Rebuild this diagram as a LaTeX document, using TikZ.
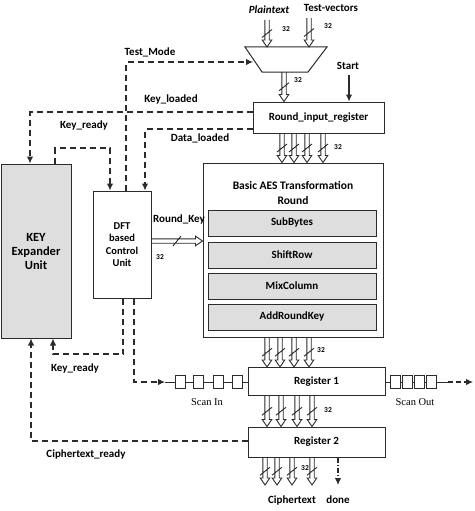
\documentclass[tikz,border=0pt]{standalone}
\usepackage{fontspec}
\setmainfont{Carlito}
\newfontfamily\seriffont{Liberation Serif}
\usetikzlibrary{arrows.meta,calc}
\definecolor{lc}{HTML}{2B2B2B}
\definecolor{gfill}{HTML}{DEDEDE}
\newcommand\busv[3]{\draw[busline] let \p1=(#2), \p2=(#3), \p3=(#1,0) in
 (\x3-2.2pt,\y1) -- (\x3-2.2pt,\y2+7pt) -- (\x3-4.8pt,\y2+7pt) -- (\x3,\y2) -- (\x3+4.8pt,\y2+7pt) -- (\x3+2.2pt,\y2+7pt) -- (\x3+2.2pt,\y1)
 (\x3-5pt,{0.5*\y1+0.5*\y2-4pt}) -- (\x3+5pt,{0.5*\y1+0.5*\y2+4pt});}
\newcommand\bush[3]{\draw[busline] let \p1=(#2), \p2=(#3), \p3=(0,#1) in
 (\x1,\y3+2.2pt) -- (\x2-7pt,\y3+2.2pt) -- (\x2-7pt,\y3+4.8pt) -- (\x2,\y3) -- (\x2-7pt,\y3-4.8pt) -- (\x2-7pt,\y3-2.2pt) -- (\x1,\y3-2.2pt)
 ({0.5*\x1+0.5*\x2-4pt},\y3-5pt) -- ({0.5*\x1+0.5*\x2+4pt},\y3+5pt);}
\begin{document}
\begin{tikzpicture}[x=1pt,y=-1pt,
  blk/.style={draw=lc,line width=1pt,inner sep=0pt,align=center,font=\bfseries\fontsize{11}{13}\selectfont},
  gblk/.style={blk,fill=gfill},
  lbl/.style={inner sep=0pt,font=\bfseries\fontsize{11}{13}\selectfont},
  num/.style={inner sep=0pt,font=\bfseries\fontsize{7.5}{8}\selectfont},
  scanlbl/.style={inner sep=0pt,font=\seriffont\fontsize{10.5}{12}\selectfont},
  busline/.style={draw=lc,line width=0.9pt},
  dsh/.style={draw=lc,line width=1.1pt,dash pattern=on 6pt off 4pt,-{Latex[length=7pt,width=6.5pt]}},
  sol/.style={draw=lc,line width=1.1pt,-{Latex[length=7pt,width=6.5pt]}},
  sq/.style={draw=lc,line width=0.8pt,fill=white,minimum width=10,minimum height=13,inner sep=0pt}]
\useasboundingbox (0,0) rectangle (474,511);

% blocks
\node[blk,minimum width=131,minimum height=31] (rir) at (318.5,117.5) {Round\_input\_register};
\node[blk,minimum width=180,minimum height=174] (aes) at (293,250) {};
\node[lbl,align=center,font=\bfseries\fontsize{11.5}{15}\selectfont] (aest) at (293,193) {Basic AES Transformation\\Round};
\node[gblk,minimum width=168,minimum height=26] (sub) at (292,223) {SubBytes};
\node[gblk,minimum width=168,minimum height=26] (shift) at (292,255) {ShiftRow};
\node[gblk,minimum width=168,minimum height=26] (mix) at (292,286) {MixColumn};
\node[gblk,minimum width=168,minimum height=26] (add) at (292,317) {AddRoundKey};
\node[gblk,minimum width=70,minimum height=174,font=\bfseries\fontsize{12.5}{14}\selectfont] (key) at (36,251) {KEY\\Expander\\Unit};
\node[blk,minimum width=58,minimum height=107,font=\bfseries\fontsize{10.5}{12.3}\selectfont] (dft) at (122,244.5) {DFT\\based\\Control\\Unit};
\node[blk,minimum width=137,minimum height=28] (reg1) at (316.5,381.5) {Register 1};
\node[blk,minimum width=137,minimum height=30] (reg2) at (316.5,442) {Register 2};

% mux
\coordinate (mtl) at (245,47);
\coordinate (mtr) at (327,47);
\coordinate (mbr) at (308,72);
\coordinate (mbl) at (262,72);
\coordinate (muxin) at (253,62);
\draw[draw=lc,line width=1pt] (mtl) -- (mtr) -- (mbr) -- (mbl) -- cycle;

% top labels
\node[lbl,font=\bfseries\itshape\fontsize{11}{13}\selectfont] (ptl) at (269,10) {Plaintext};
\node[lbl] (tvl) at (331,8) {Test-vectors};
\node[lbl] (stl) at (348,66) {Start};
\coordinate (pt) at (267,20);
\coordinate (tv) at (309,18);
\busv{267}{pt}{mtl}
\busv{309}{tv}{mtl}
\busv{284}{mbl}{rir.north}
\node[num] at (286,29) {32};
\node[num] at (328,26) {32};
\node[num] at (298,80) {32};
\coordinate (st) at (349,75);
\draw[sol] (st) -- (st |- rir.north);

% rir -> aes
\busv{282}{rir.south}{aes.north}
\busv{294}{rir.south}{aes.north}
\busv{307}{rir.south}{aes.north}
\busv{323}{rir.south}{aes.north}
\node[num] at (338,147) {32};

% round key
\bush{241}{dft.east}{aes.west}
\node[lbl] at (179,220) {Round\_Key};
\node[num] at (160,257) {32};

% aes -> reg1
\busv{267}{aes.south}{reg1.north}
\busv{280}{aes.south}{reg1.north}
\busv{294}{aes.south}{reg1.north}
\busv{309}{aes.south}{reg1.north}
\node[num] at (321,350) {32};

% reg1 -> reg2
\busv{267}{reg1.south}{reg2.north}
\busv{281}{reg1.south}{reg2.north}
\busv{297}{reg1.south}{reg2.north}
\busv{312}{reg1.south}{reg2.north}
\node[num] at (328,410) {32};

% reg2 outputs
\coordinate (co) at (265,485);
\busv{265}{reg2.south}{co}
\busv{277}{reg2.south}{co}
\busv{292}{reg2.south}{co}
\busv{312}{reg2.south}{co}
\node[num] at (305,468) {32};
\coordinate (dn) at (338,485);
\draw[draw=lc,line width=1.1pt,dash pattern=on 5pt off 2pt on 1pt off 2pt,-{Latex[length=7pt,width=6.5pt]}] (dn |- reg2.south) -- (dn);
\node[lbl] at (292,500) {Ciphertext};
\node[lbl] at (338,500) {done};

% dashed control lines
\coordinate (tm) at (126,62);
\draw[dsh] (tm |- dft.north) -- (tm) -- (muxin);
\node[lbl] at (150,52) {Test\_Mode};

\coordinate (kl) at (30,112);
\draw[dsh] (kl -| rir.west) -- (kl) -- (kl |- key.north);
\node[lbl] at (171,100) {Key\_loaded};

\coordinate (kr1) at (55,148);
\coordinate (kr2) at (110,148);
\draw[dsh] (kr1 |- key.north) -- (kr1) -- (kr2) -- (kr2 |- dft.north);
\node[lbl] at (84,126) {Key\_ready};

\coordinate (dl) at (145,129);
\draw[dsh] (dl -| rir.west) -- (dl) -- (dl |- dft.north);
\node[lbl] at (200,138) {Data\_loaded};

\coordinate (kb1) at (123,354);
\coordinate (kb2) at (53,354);
\draw[dsh] (kb1 |- dft.south) -- (kb1) -- (kb2) -- (kb2 |- key.south);
\node[lbl] at (75,369) {Key\_ready};

\coordinate (cr) at (31,441);
\draw[dsh] (cr -| reg2.west) -- (cr) -- (cr |- key.south);
\node[lbl] at (86,455) {Ciphertext\_ready};

% scan chain in
\coordinate (si1) at (134,382);
\coordinate (si2) at (165,382);
\draw[dsh] (si1 |- dft.south) -- (si1) -- (si2);
\draw[draw=lc,line width=0.8pt] (si2) -- (si2 -| reg1.west);
\node[sq] (s1) at (180,382) {};
\node[sq] (s2) at (198,382) {};
\node[sq] (s3) at (218,382) {};
\node[sq] (s4) at (237,382) {};
\node[scanlbl] at (207,402) {Scan In};

% scan chain out
\coordinate (so1) at (448,382);
\coordinate (so2) at (473,382);
\draw[draw=lc,line width=0.8pt] (so1 -| reg1.east) -- (so1);
\node[sq] (o1) at (395,382) {};
\node[sq] (o2) at (407,382) {};
\node[sq] (o3) at (419,382) {};
\node[sq] (o4) at (431,382) {};
\draw[dsh,dash pattern=on 5pt off 3pt] (so1) -- (so2);
\node[scanlbl] at (415,402) {Scan Out};
\end{tikzpicture}
\end{document}
